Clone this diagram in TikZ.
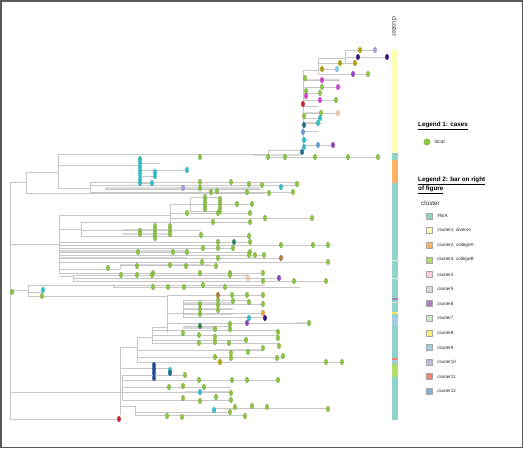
\documentclass[tikz,border=0pt]{standalone}
\usepackage{fontspec}
\setmainfont{Liberation Sans}
\usepackage{xcolor}
\usetikzlibrary{positioning,shapes.geometric}

\definecolor{tipgreen}{HTML}{8DC63F}
\definecolor{tipcyan}{HTML}{2EC4CF}
\definecolor{tipolive}{HTML}{B8A400}
\definecolor{tiplav}{HTML}{A7A0E8}
\definecolor{tipnavy}{HTML}{3B0F80}
\definecolor{tippurple}{HTML}{9440C0}
\definecolor{tipmag}{HTML}{DA3FD9}
\definecolor{tiplblue}{HTML}{8ACFF2}
\definecolor{tippeach}{HTML}{F8CBA8}
\definecolor{tipblue}{HTML}{6A9FE0}
\definecolor{tipred}{HTML}{D0213A}
\definecolor{tipdteal}{HTML}{1F6E8C}
\definecolor{tipdgreen}{HTML}{2E8B57}
\definecolor{tipbrown}{HTML}{B07A3A}
\definecolor{tiporange}{HTML}{F0A040}
\definecolor{tipdblue}{HTML}{1F4E9C}
\definecolor{clna}{HTML}{8DD3C7}
\definecolor{clone}{HTML}{FFFFB3}
\definecolor{cltwo}{HTML}{FDB462}
\definecolor{clthree}{HTML}{B3DE69}
\definecolor{clfour}{HTML}{FCCDE5}
\definecolor{clfive}{HTML}{D9D9D9}
\definecolor{clsix}{HTML}{B07CC0}
\definecolor{clseven}{HTML}{CCEBC5}
\definecolor{cleight}{HTML}{FFED6F}
\definecolor{clnine}{HTML}{A6CEE3}
\definecolor{clten}{HTML}{BEBADA}
\definecolor{cleleven}{HTML}{FB8072}
\definecolor{cltwelve}{HTML}{80B1D3}

\begin{document}
\begin{tikzpicture}[
    x=1pt, y=-1pt,
    branch/.style={draw=gray!45, line width=0.55pt},
    cibar/.style={draw=gray!30, line width=2.8pt},
    tip/.style={ellipse, fill=tipgreen, draw=tipgreen!75!black, line width=0.2pt, minimum width=3.5pt, minimum height=5.5pt, inner sep=0pt},
    heading/.style={font=\fontsize{6.3}{7.8}\selectfont\bfseries, align=left, inner sep=0pt},
    entry/.style={font=\fontsize{4.6}{5}\selectfont, text=gray!30!black, inner sep=0pt},
    keybox/.style={draw=gray!70, line width=0.3pt, minimum size=6pt, inner sep=0pt}
]
\useasboundingbox (0,0) rectangle (523,448);
\draw[gray!70!black, line width=1.5pt] (0.75,0.75) rectangle (522.25,447.25);

% tree: confidence bars, branches, tips
\foreach \y/\a/\b in {80/305/340, 113/305/320, 123/305/320, 155/253/300, 188/105/260,
    230/122/170, 234/122/170, 251/60/187, 258/60/187, 265/120/210, 303/183/233,
    309/183/233, 314/183/233, 323/295/305, 328/183/217, 350/215/263, 392/185/230}
  \draw[cibar] (\a,\y) -- (\b,\y);

\foreach \y/\a/\b in {182/10/26, 172/26/58, 193/26/265, 154/58/268, 150/268/303, 157/268/378,
    165/58/140, 163/140/160, 170/140/187, 176/140/155, 183/140/152, 188/58/90, 182/90/300,
    185/90/297, 189/105/262, 192/90/293,
    70/303/318, 58/318/345, 50/345/375, 57/345/387, 63/318/355, 69/318/337, 74/318/368,
    80/303/340, 87/303/338, 93/303/320, 100/303/336, 106/303/318, 113/303/338, 118/303/322,
    123/303/322, 131/303/318, 140/303/308, 145/303/333,
    244/10/59, 215/59/170, 204/170/252, 197/190/222, 211/190/222, 213/170/250, 218/170/312,
    229/59/81, 222/81/250, 230/81/201, 236/81/249, 242/59/250, 245/59/328, 248/59/233,
    252/59/250, 255/59/264, 258/59/281, 262/59/328, 265/120/216, 269/59/120, 273/59/263,
    276/59/73, 275/73/248, 278/73/279, 281/73/326,
    290/10/28, 285/28/265, 287/113/300, 292/28/43, 296/28/168,
    392/10/231, 419/10/118, 347/120/137, 337/137/152, 327/152/167, 313/167/263, 295/167/263,
    300/183/249, 304/183/263, 309/183/233, 317/183/265, 323/167/310, 326/183/230, 330/152/278,
    335/152/278, 340/152/246, 343/152/279, 350/137/263, 357/137/283, 362/137/342, 368/120/170,
    375/122/185, 380/122/278, 387/122/231, 400/122/230, 406/120/135, 408/215/329, 412/135/230,
    415/135/245}
  \draw[branch] (\a,\y) -- (\b,\y);

\foreach \x/\a/\b in {10/182/419, 26/172/193, 58/154/188, 268/150/157, 303/70/150, 318/58/74,
    345/50/63, 140/163/183, 90/182/192, 59/215/273, 170/204/222, 190/197/211, 81/222/236,
    120/265/269, 73/275/281, 28/285/296, 113/285/287, 120/347/415, 137/337/362, 152/327/343,
    167/295/333, 183/300/317, 122/375/400, 135/406/415, 215/408/412}
  \draw[branch] (\x,\a) -- (\x,\b);

\foreach \x/\y [count=\i] in {200/157, 268/157, 285/157, 315/157, 348/157, 378/157,
    322/87, 336/100, 368/74, 321/113, 320/93, 306/91, 305/78, 304/116,
    200/182, 231/182, 249/184, 262/185, 297/184, 211/192, 217/191, 247/192, 269/193, 293/192, 200/188,
    205/197, 205/201, 205/205, 205/209, 220/199, 220/203, 220/207, 220/211, 237/204, 252/204,
    187/213, 218/213, 250/213, 265/218, 312/218, 213/222, 250/222, 140/231, 140/234,
    155/226, 155/230, 155/234, 155/238, 170/226, 170/230, 170/234, 201/235, 249/236,
    218/242, 250/242, 281/245, 313/245, 328/245, 203/248, 218/248, 233/248,
    138/252, 173/252, 187/252, 250/252, 249/255, 255/255, 264/255, 218/258, 202/262, 328/262,
    108/268, 137/266, 170/265, 186/266, 216/266, 153/273, 200/273, 230/273, 263/273,
    121/275, 137/275, 152/275, 230/275, 263/281, 294/281, 326/281,
    203/285, 153/287, 168/287, 184/287, 225/287, 12/292, 42/296, 232/295, 247/295, 263/295,
    200/304, 200/309, 200/314, 218/300, 218/305, 218/310, 233/301, 249/302, 263/304,
    230/324, 309/323, 215/329, 183/333, 230/329, 278/332, 199/335, 215/337, 278/338,
    199/343, 215/342, 229/343, 246/340, 279/346, 248/352, 263/348, 231/353,
    215/357, 231/358, 277/358, 283/356, 326/362, 342/362, 185/375, 199/380, 232/380,
    247/380, 278/380, 169/387, 183/386, 204/387, 231/393, 216/397, 231/400, 183/398,
    200/401, 235/407, 252/406, 267/407, 328/409, 230/412, 167/416, 182/417, 245/416}
  \node[tip] (local\i) at (\x,\y) {};

\foreach \x/\y/\c [count=\i] in {360/50/tipolive, 375/50/tiplav, 358/57/tipnavy, 387/57/tipnavy,
    340/63/tipolive, 355/63/tipolive, 322/69/tipolive, 337/69/tiplblue, 353/74/tippurple,
    322/80/tipmag, 338/87/tipmag, 320/100/tipmag, 338/113/tippeach, 320/118/tipcyan,
    318/123/tipcyan, 318/145/tipblue, 333/145/tippurple, 303/104/tipred, 304/125/tipdteal,
    303/132/tipblue, 304/140/tipcyan, 304/147/tipcyan, 306/96/tipmag, 302/152/tipdteal,
    183/188/tiplav, 281/187/tipcyan,
    140/159/tipcyan, 140/162/tipcyan, 140/166/tipcyan, 140/170/tipcyan, 140/174/tipcyan,
    140/179/tipcyan, 140/183/tipcyan, 155/172/tipcyan, 155/176/tipcyan, 187/170/tipcyan,
    152/183/tipcyan,
    234/242/tipdgreen, 281/258/tipbrown, 248/278/tippeach, 279/278/tippurple, 43/290/tipcyan,
    218/295/tipbrown, 263/313/tiporange, 249/318/tipcyan, 265/318/tipnavy, 247/323/tippurple,
    200/326/tipdgreen, 220/362/tipolive, 154/365/tipdblue, 154/369/tipdblue, 154/373/tipdblue,
    154/378/tipdblue, 170/370/tipcyan, 170/373/tipdteal, 200/392/tipcyan, 214/410/tipcyan,
    119/419/tipred}
  \node[tip, fill=\c, draw=\c!75!black] (case\i) at (\x,\y) {};

% cluster bar
\foreach \a/\b/\c in {50/153/clone, 153/160/clna, 160/183/cltwo, 183/420/clna,
    259.5/260.5/clna!30, 277.5/278.5/clna!30, 297.5/300/clsix, 301.5/302.5/clseven,
    311.5/313.5/cleight, 317/326/clnine, 357.5/359.5/cleleven, 360/362/clnine, 364/377/clthree}
  \fill[\c] (391.5,\a) rectangle (397.5,\b);
\node[rotate=-90, anchor=west, inner sep=0pt, text=gray!60!black,
    font=\fontsize{7}{8}\selectfont] (bar_title) at (394.5,16) {cluster};

% legends
\node[heading, anchor=north west] (legend_cases) at (418,122) {\underline{Legend 1: cases}};
\node[circle, fill=tipgreen, draw=tipgreen!75!black, line width=0.2pt, minimum size=6.5pt,
    inner sep=0pt] (local_dot) at (427,142) {};
\node[entry, font=\fontsize{5}{6}\selectfont, right=4pt of local_dot] (local_label) {local};

\node[heading, anchor=north west] (legend_bar) at (418,177)
    {\underline{Legend 2: bar on right}\\\underline{of figure}};
\node[anchor=west, inner sep=0pt, text=gray!30!black, font=\fontsize{6.3}{7}\selectfont]
    (cluster_title) at (421,203) {cluster};
\foreach \lab/\col [count=\i] in {{\#N/A}/clna, {cluster1, diverse}/clone,
    {cluster2, collegeA}/cltwo, {cluster3, collegeB}/clthree, cluster4/clfour,
    cluster5/clfive, cluster6/clsix, cluster7/clseven, cluster8/cleight, cluster9/clnine,
    cluster10/clten, cluster11/cleleven, cluster12/cltwelve} {
  \node[keybox, fill=\col] (key\i) at (429,{201.4+14.6*\i}) {};
  \node[entry, right=5pt of key\i] (keylabel\i) {\lab};
}
\end{tikzpicture}
\end{document}
